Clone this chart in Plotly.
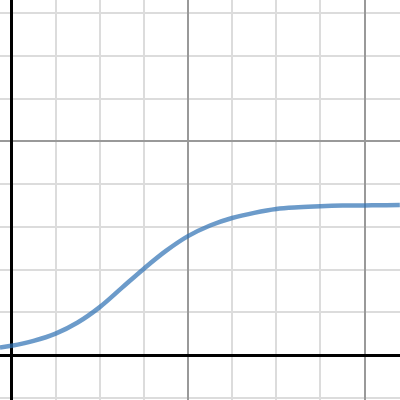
import plotly.graph_objects as go

# points
x_vals = [-0.13, 0, 0.25, 0.5, 0.75, 1, 1.25, 1.5, 1.75, 2, 2.25, 2.5, 2.75, 3, 3.25, 3.5, 3.75, 4, 4.25, 4.4]
y_vals = [0.035, 0.043, 0.066, 0.100, 0.152, 0.224, 0.314, 0.404, 0.487, 0.556, 0.606, 0.641, 0.665, 0.683, 0.691, 0.696, 0.699, 0.700, 0.701, 0.702]

fig = go.Figure()
fig.add_trace(go.Scatter(
    x=x_vals, y=y_vals, mode='lines',
    line=dict(color='rgba(45,112,179,0.7)', width=4.5, shape='spline', smoothing=1.0),
    hoverinfo='skip'
))

axis_common = dict(
    showticklabels=False,
    ticks='',
    showline=False,
    zeroline=True,
    zerolinecolor='black',
    zerolinewidth=2.5,
    showgrid=True,
    gridcolor='#999999',
    gridwidth=1.6,
    fixedrange=True,
)

fig.update_xaxes(
    range=[-0.13, 4.402],
    dtick=2, tick0=0,
    minor=dict(dtick=0.5, tick0=0, showgrid=True, gridcolor='#dcdcdc', gridwidth=1.5),
    **axis_common
)
fig.update_yaxes(
    range=[-0.2105, 1.661],
    dtick=1, tick0=0,
    minor=dict(dtick=0.2, tick0=0, showgrid=True, gridcolor='#dcdcdc', gridwidth=1.5),
    **axis_common
)

fig.update_layout(
    width=400, height=400,
    margin=dict(l=0, r=0, t=0, b=0),
    plot_bgcolor='white',
    paper_bgcolor='white',
    showlegend=False,
)

fig.write_html("out.html", config={'displayModeBar': False},
               post_script="document.body.style.margin='0';")
